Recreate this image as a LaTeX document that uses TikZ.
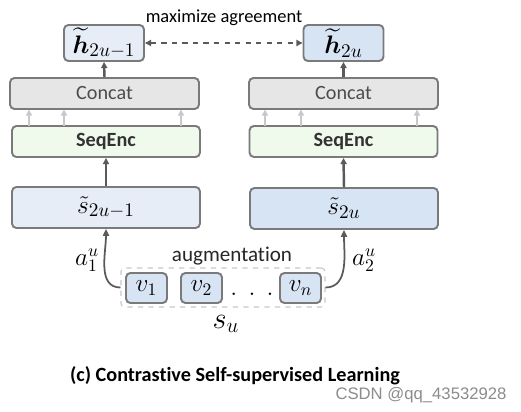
\documentclass[tikz,border=0pt]{standalone}
\usepackage{amsmath,amssymb}
\usepackage{fontspec}
\setmainfont{Carlito}[Ligatures={NoCommon}]
\newfontfamily\markfont{Liberation Sans}
\usepackage{tikz}
\usetikzlibrary{arrows.meta}

\definecolor{boxline}{HTML}{7A7A7A}
\definecolor{viewA}{HTML}{E6EDF7}
\definecolor{viewB}{HTML}{D7E4F4}
\definecolor{catfill}{HTML}{E6E6E6}
\definecolor{encfill}{HTML}{EFFAEC}
\definecolor{darkarrow}{HTML}{5A5A5A}
\definecolor{lightarrow}{HTML}{C8C8C8}

\tikzset{
  block/.style={draw=boxline, line width=1.1pt, rounded corners=2.5pt, inner sep=0pt},
  catbox/.style={block, fill=catfill, minimum width=3.78cm, minimum height=0.62cm, text=black!70, font=\fontsize{11.5}{13}\selectfont},
  encbox/.style={block, fill=encfill, minimum width=3.76cm, minimum height=0.62cm, text=black!80, font=\fontsize{11.5}{13}\selectfont\bfseries},
  hbox/.style={block, minimum width=1.6cm, minimum height=0.72cm, font=\fontsize{15.5}{17}\selectfont},
  seqbox/.style={block, minimum width=3.76cm, minimum height=0.82cm, font=\fontsize{15.5}{17}\selectfont},
  itembox/.style={block, fill=viewB, minimum width=0.82cm, minimum height=0.6cm, font=\fontsize{14}{16}\selectfont},
  mathlabel/.style={inner sep=1pt, font=\fontsize{14.5}{16}\selectfont},
  uparrow/.style={-{Triangle[length=3.5pt,width=3.5pt]}, line width=1.4pt, draw=darkarrow},
  thinup/.style={-{Triangle[length=3.5pt,width=3.5pt]}, line width=1.1pt, draw=lightarrow},
  augarrow/.style={-{Triangle[length=4pt,width=3.5pt]}, line width=1pt, draw=darkarrow},
}

\begin{document}
\begin{tikzpicture}[x=0.02cm,y=-0.02cm]

        \useasboundingbox (0,0) rectangle (521,412);

        % left view
        \node[hbox, fill=viewA] (hA) at (104,43) {$\widetilde{\boldsymbol{h}}_{2u-1}$};
        \node[catbox] (catA) at (104.5,93.5) {Concat};
        \node[encbox] (encA) at (106,141.5) {SeqEnc};
        \node[seqbox, fill=viewA] (sA) at (106,207.5) {$\tilde{s}_{2u-1}$};

        % right view
        \node[hbox, fill=viewB] (hB) at (343.5,43) {$\widetilde{\boldsymbol{h}}_{2u}$};
        \node[catbox] (catB) at (343.5,93.5) {Concat};
        \node[encbox] (encB) at (343.5,141.5) {SeqEnc};
        \node[seqbox, fill=viewB] (sB) at (344,208.5) {$\tilde{s}_{2u}$};

        % original sequence
        \node[draw=lightarrow, dashed, line width=0.6pt, rounded corners=2pt,
              minimum width=4.08cm, minimum height=0.78cm] (bag) at (223,287.5) {};
        \node[itembox] (v1) at (146.5,288) {$v_1$};
        \node[itembox] (v2) at (201.5,288) {$v_2$};
        \node[inner sep=0pt, font=\fontsize{14}{16}\selectfont] (dots) at (252,294) {$.\;\,.\;\,.$};
        \node[itembox] (vn) at (300.5,288) {$v_n$};

        \node[inner sep=1pt, font=\fontsize{12}{14}\selectfont, text=black!85] (aug) at (232,256) {augmentation};
        \node[mathlabel] (a1) at (87,260) {$a_1^u$};
        \node[mathlabel] (a2) at (364,260) {$a_2^u$};
        \node[mathlabel, font=\fontsize{17}{19}\selectfont] (su) at (226,324) {$s_u$};

        % arrows
        \draw[uparrow] (sA.north) -- (encA.south);
        \draw[uparrow] (sB.north) -- (encB.south);
        \draw[uparrow] (catA.north) -- (hA.south);
        \draw[uparrow] (catB.north) -- (hB.south);
        \foreach \xa/\xb in {29/265, 64/301, 181/417} {
            \draw[thinup] (\xa,126) -- (\xa,109.5);
            \draw[thinup] (\xb,126) -- (\xb,109.5);
        }
        \draw[augarrow] (bag.west) to[out=180,in=-90] (sA.south);
        \draw[augarrow] (bag.east) to[out=0,in=-90] (sB.south);

        \draw[{Triangle[length=3.5pt,width=3.5pt]}-{Triangle[length=3.5pt,width=3.5pt]}, dashed, line width=1pt, draw=darkarrow]
            (hA.east) -- (hB.west);
        \node[inner sep=1pt, font=\fontsize{10.5}{12}\selectfont] (agree) at (224,18) {maximize agreement};

        \node[font=\fontsize{11.5}{13}\selectfont\bfseries] (caption) at (235,376) {(c) Contrastive Self-supervised Learning};
        \node[font=\markfont\fontsize{9.5}{11}\selectfont, text=black!45] (mark) at (421,395) {CSDN @qq\_43532928};
    \end{tikzpicture}
\end{document}
